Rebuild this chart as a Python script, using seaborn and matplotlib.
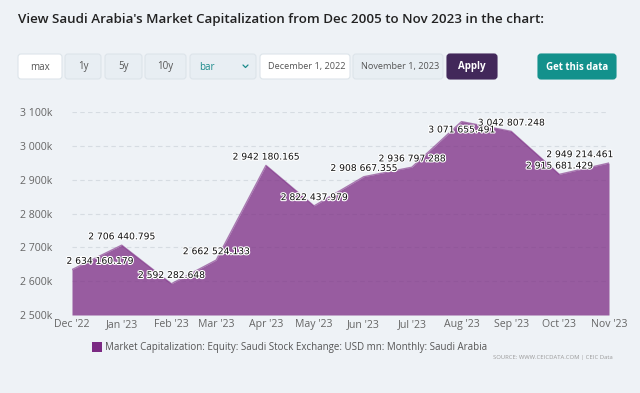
import pandas as pd
import seaborn as sns
import matplotlib.pyplot as plt
import matplotlib.dates as mdates
import matplotlib.patheffects as pe
from matplotlib.patches import FancyBboxPatch, Rectangle

# Monthly values (USD mn)
months = ['2022-12-01', '2023-01-01', '2023-02-01', '2023-03-01', '2023-04-01', '2023-05-01',
          '2023-06-01', '2023-07-01', '2023-08-01', '2023-09-01', '2023-10-01', '2023-11-01']
values = [2634160.179, 2706440.795, 2592282.648, 2662524.133, 2942180.165, 2822437.979,
          2908667.355, 2936797.288, 3071655.491, 3042807.248, 2915681.429, 2949214.461]
labels = ['2 634 160.179', '2 706 440.795', '2 592 282.648', '2 662 524.133', '2 942 180.165',
          '2 822 437.979', '2 908 667.355', '2 936 797.288', '3 071 655.491', '3 042 807.248',
          '2 915 681.429', '2 949 214.461']
yticks = [2500000, 2600000, 2700000, 2800000, 2900000, 3000000, 3100000]
ytick_labels = ['2 500k', '2 600k', '2 700k', '2 800k', '2 900k', '3 000k', '3 100k']

df = pd.DataFrame({'date': pd.to_datetime(months), 'value': values})

bg = '#eef2f6'
purple = '#7b2a83'

sns.set_style('white')
plt.rcParams['font.family'] = ['Open Sans', 'DejaVu Sans']

fig = plt.figure(figsize=(6.4, 3.93), dpi=100)
fig.patch.set_facecolor(bg)

W, H = 640, 393
ax = fig.add_axes([72 / W, 1 - 315 / H, (609 - 72) / W, (315 - 112) / H])
ax.set_facecolor(bg)

ax.fill_between(df['date'], df['value'], 2500000, color=purple, alpha=0.75, lw=0)
sns.lineplot(data=df, x='date', y='value', ax=ax, color=purple, lw=1, alpha=0.6)

ax.set_ylim(2500000, 3100000)
ax.set_xlim(df['date'].iloc[0], df['date'].iloc[-1])
ax.set_yticks(yticks)
ax.set_yticklabels(ytick_labels)
ax.set_xticks(df['date'])
ax.xaxis.set_major_formatter(mdates.DateFormatter("%b '%y"))
ax.tick_params(axis='both', length=0, labelsize=7.6, colors='#666666')
ax.tick_params(axis='y', pad=14)
ax.tick_params(axis='x', pad=3)
ax.grid(axis='y', color='#d6dce2', ls=(0, (4, 3)), lw=0.8)
ax.set_axisbelow(True)
ax.set_xlabel('')
ax.set_ylabel('')
for s in ax.spines.values():
    s.set_visible(False)
ax.axhline(2500000, color='#d6dce2', lw=0.8, zorder=0.5)

# data labels (offsets in points)
for i, (d, v, t) in enumerate(zip(df['date'], df['value'], labels)):
    dx, dy, ha = 0, 6, 'center'
    if i == 0:
        dx, ha = -4, 'left'
    elif i == len(values) - 1:
        dx, ha = 3, 'right'
    elif i == 8:
        dy = -6
    ax.annotate(t, (d, v), xytext=(dx, dy), textcoords='offset points', ha=ha, va='center',
                fontsize=6.6, color='#111111', family='DejaVu Sans', annotation_clip=False,
                path_effects=[pe.withStroke(linewidth=1.6, foreground='white')])

# page overlay in pixel coordinates
ov = fig.add_axes([0, 0, 1, 1], zorder=-1)
ov.set_xlim(0, W)
ov.set_ylim(H, 0)
ov.axis('off')

ov.text(18, 19, "View Saudi Arabia's Market Capitalization from Dec 2005 to Nov 2023 in the chart:",
        fontsize=9.6, fontweight='semibold', color='#222222', va='center', ha='left')

buttons = [
    (18, 62, 'max', '#ffffff', '#555555', 'normal'),
    (65, 101, '1y', '#e8eef3', '#555555', 'normal'),
    (105, 142, '5y', '#e8eef3', '#555555', 'normal'),
    (145, 186, '10y', '#e8eef3', '#555555', 'normal'),
    (190, 256, 'bar', '#e8eef3', '#1a8a8a', 'normal'),
    (260, 350, 'December 1, 2022', '#ffffff', '#555555', 'normal'),
    (353, 443, 'November 1, 2023', '#e8eef3', '#555555', 'normal'),
    (447, 497, 'Apply', '#42285a', '#ffffff', 'bold'),
    (538, 616, 'Get this data', '#13918c', '#ffffff', 'bold'),
]
for x0, x1, txt, fc, tc, fw in buttons:
    ec = fc if fc not in ('#ffffff', '#e8eef3') else '#dde4ea'
    ov.add_patch(FancyBboxPatch((x0, 54), x1 - x0, 25, boxstyle='round,pad=0,rounding_size=3',
                                fc=fc, ec=ec, lw=0.8))
    if txt == 'bar':
        ov.text(x0 + 9, 67, txt, fontsize=7, color=tc, va='center', ha='left')
        ov.plot([x1 - 13, x1 - 10.5, x1 - 8], [65, 67.5, 65], color=tc, lw=0.9)
    elif 'ber' in txt:
        ov.text(x0 + 8, 67, txt, fontsize=6.6, color=tc, va='center', ha='left')
    else:
        ov.text((x0 + x1) / 2, 67, txt, fontsize=7, color=tc, va='center', ha='center',
                fontweight=fw)

# legend
ov.add_patch(Rectangle((92, 342), 10, 10, fc=purple, ec='none'))
ov.text(105, 347.5, 'Market Capitalization: Equity: Saudi Stock Exchange: USD mn: Monthly: Saudi Arabia',
        fontsize=7, color='#555555', va='center', ha='left')
ov.text(613, 357, 'SOURCE: WWW.CEICDATA.COM | CEIC Data', fontsize=4.2, color='#999999',
        va='center', ha='right')

fig.savefig('out.png', dpi=100, facecolor=bg)
